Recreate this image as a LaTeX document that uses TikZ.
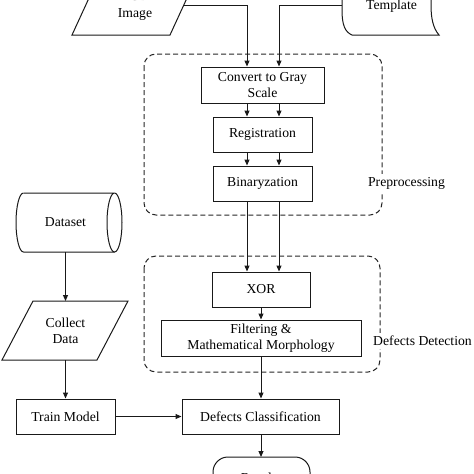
\documentclass[tikz,border=0pt]{standalone}
\usepackage{fontspec}
\setmainfont{Liberation Serif}
\usetikzlibrary{arrows.meta}
\tikzset{
  ln/.style={line width=1pt, draw=black!90},
  arr/.style={ln, -{Triangle[length=6pt,width=5pt]}},
  box/.style={ln, rectangle, inner sep=0pt, align=center, font=\fontsize{13.7}{16.5}\selectfont},
  txt/.style={inner sep=0pt, align=center, font=\fontsize{13.7}{16.5}\selectfont},
  lab/.style={fill=white, inner sep=3pt, font=\fontsize{13.7}{16.5}\selectfont},
  dashbox/.style={line width=1pt, draw=black!85, dash pattern=on 5pt off 3pt, rounded corners=12pt},
}
\begin{document}
\begin{tikzpicture}[x=1pt,y=-1pt]
\useasboundingbox (0,0) rectangle (474,474);
\clip (0,0) rectangle (474,474);
\coordinate (L) at (247,0);
\coordinate (R) at (279,0);
% PCB image (parallelogram)
\draw[ln] (72,35) -- (170,35) -- (193,-15) -- (95,-15) -- cycle;
\node[txt] (pcb) at (135,6) {PCB\\Image};
\coordinate (pcbR) at (184,5);
% Template
\draw[ln] (342,-20) -- (342,10) .. controls (342,25) and (345,32) .. (352,35) -- (439,35)
  .. controls (433,28) and (431,18) .. (431,5) -- (431,-20);
\node[txt] (tpl) at (391.5,6) {Template};
\coordinate (tplL) at (342,5);
% Preprocessing
\draw[dashbox] (144,54) rectangle (382,215);
\node[lab] (pre) at (406.5,183) {Preprocessing};
\node[box, minimum width=123pt, minimum height=36pt] (cg) at (262.5,85) {Convert to Gray\\Scale};
\node[box, minimum width=99pt, minimum height=35pt] (reg) at (262.5,134.5) {Registration};
\node[box, minimum width=99pt, minimum height=35pt] (bin) at (262.5,183.5) {Binaryzation};
% Defects detection
\draw[dashbox] (144,256) rectangle (380,372);
\node[lab] (dd) at (422.5,341) {Defects Detection};
\node[box, minimum width=98pt, minimum height=35pt] (xor) at (261,289.5) {XOR};
\node[box, minimum width=200pt, minimum height=36pt] (filt) at (261,338) {Filtering \&\\Mathematical Morphology};
% Left column: dataset cylinder
\draw[ln] (23.5,193) -- (114.5,193)
  .. controls (118.64,193) and (122,206.2) .. (122,222.5)
  .. controls (122,238.8) and (118.64,252) .. (114.5,252)
  .. controls (110.36,252) and (107,238.8) .. (107,222.5)
  .. controls (107,206.2) and (110.36,193) .. (114.5,193);
\draw[ln] (114.5,252) -- (23.5,252)
  .. controls (19.36,252) and (16,238.8) .. (16,222.5)
  .. controls (16,206.2) and (19.36,193) .. (23.5,193);
\node[txt] (ds) at (65.5,222.5) {Dataset};
\coordinate (dsB) at (65.5,252);
\draw[ln] (2,360) -- (97,360) -- (128,301) -- (33,301) -- cycle;
\node[txt] (cd) at (65.5,331) {Collect\\Data};
\coordinate (cdT) at (65.5,301);
\coordinate (cdB) at (65.5,360);
\node[box, minimum width=99pt, minimum height=35pt] (train) at (65.5,416.5) {Train Model};
\node[box, minimum width=157pt, minimum height=35pt] (cls) at (260.5,416.5) {Defects Classification};
% Terminal
\draw[ln, rounded corners=15pt] (213,500) -- (213,457) -- (310,457) -- (310,500);
\node[txt] (res) at (261,478) {Results};
\coordinate (resT) at (261,457);
% Connectors
\draw[arr] (pcbR) -| (cg.north -| L);
\draw[arr] (tplL) -| (cg.north -| R);
\draw[arr] (cg.south -| L) -- (reg.north -| L);
\draw[arr] (cg.south -| R) -- (reg.north -| R);
\draw[arr] (reg.south -| L) -- (bin.north -| L);
\draw[arr] (reg.south -| R) -- (bin.north -| R);
\draw[arr] (bin.south -| L) -- (xor.north -| L);
\draw[arr] (bin.south -| R) -- (xor.north -| R);
\draw[arr] (xor.south) -- (filt.north -| xor.south);
\draw[arr] (filt.south -| xor.south) -- (cls.north -| xor.south);
\draw[arr] (cls.south -| xor.south) -- (resT);
\draw[arr] (dsB) -- (cdT);
\draw[arr] (cdB) -- (train.north);
\draw[arr] (train.east) -- (cls.west);
\end{tikzpicture}
\end{document}
